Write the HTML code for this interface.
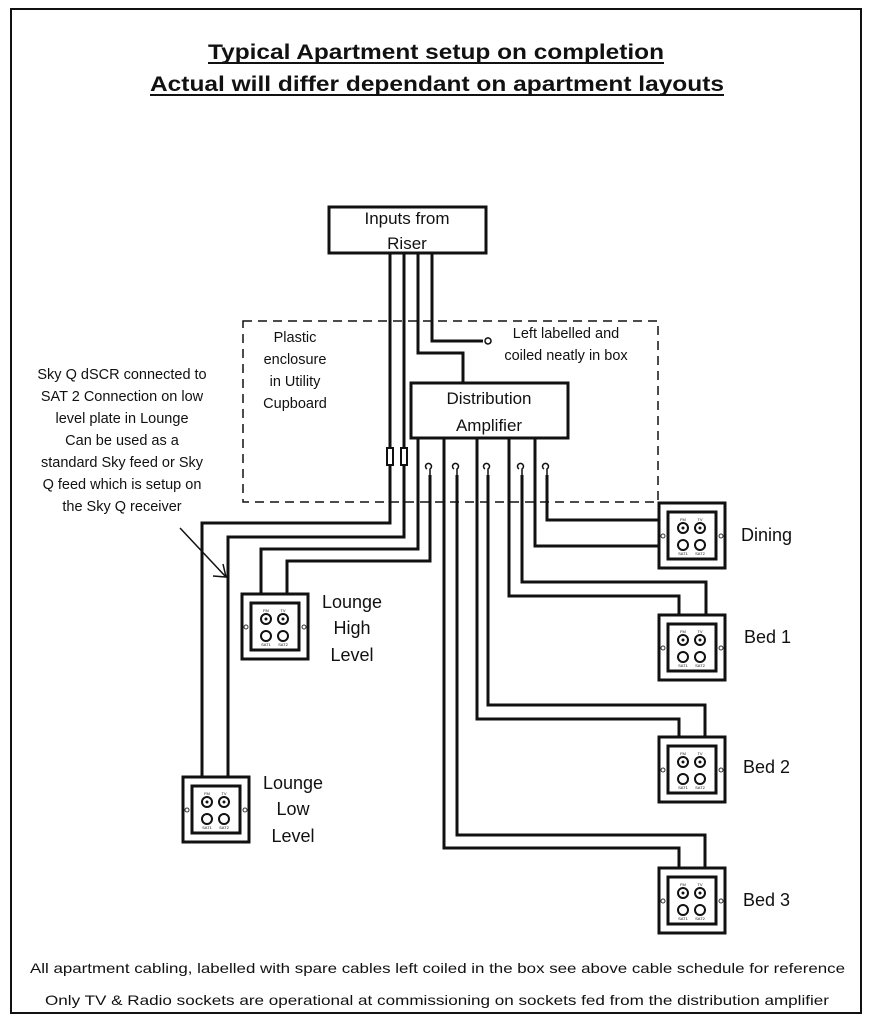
<!DOCTYPE html>
<html><head><style>
html,body{margin:0;padding:0;background:#fff}
svg{display:block}
text{font-family:"Liberation Sans",sans-serif;fill:#111}
</style></head><body>
<svg width="870" height="1024" viewBox="0 0 870 1024" xmlns="http://www.w3.org/2000/svg">
<defs>
<g id="plate">
<rect x="0" y="0" width="66" height="65" fill="#fff" stroke="#111" stroke-width="3"/>
<rect x="9" y="9" width="48" height="47" fill="#fff" stroke="#111" stroke-width="3"/>
<circle cx="4" cy="33" r="2" fill="none" stroke="#333" stroke-width="1"/>
<circle cx="62" cy="33" r="2" fill="none" stroke="#333" stroke-width="1"/>
<circle cx="24" cy="25" r="5" fill="none" stroke="#111" stroke-width="2"/>
<circle cx="24" cy="25" r="1.5" fill="#111"/>
<circle cx="41" cy="25" r="5" fill="none" stroke="#111" stroke-width="2"/>
<circle cx="41" cy="25" r="1.5" fill="#111"/>
<circle cx="24" cy="42" r="5" fill="none" stroke="#111" stroke-width="2"/>
<circle cx="41" cy="42" r="5" fill="none" stroke="#111" stroke-width="2"/>
<text x="24" y="18" font-size="4" text-anchor="middle">FM</text>
<text x="41" y="18" font-size="4" text-anchor="middle">TV</text>
<text x="24" y="52" font-size="4" text-anchor="middle">SAT1</text>
<text x="41" y="52" font-size="4" text-anchor="middle">SAT2</text>
</g>
</defs>
<rect x="11" y="9" width="850" height="1004" fill="none" stroke="#111" stroke-width="2"/>
<text x="208" y="59" font-size="21" font-weight="bold" textLength="456" lengthAdjust="spacingAndGlyphs">Typical Apartment setup on completion</text>
<text x="150" y="91" font-size="21" font-weight="bold" textLength="574" lengthAdjust="spacingAndGlyphs">Actual will differ dependant on apartment layouts</text>
<line x1="208" y1="63" x2="664" y2="63" stroke="#111" stroke-width="2"/>
<line x1="150" y1="95" x2="724" y2="95" stroke="#111" stroke-width="2"/>

<rect x="243" y="321" width="415" height="181" fill="none" stroke="#111" stroke-width="1.5" stroke-dasharray="9,6"/>

<g fill="none" stroke="#111" stroke-width="3">
<polyline points="432,253 432,341 483,341"/>
<polyline points="418,253 418,353 463,353 463,383"/>
<polyline points="390,253 390,523 202,523 202,777"/>
<polyline points="404,253 404,537 228,537 228,777"/>
<polyline points="418,438 418,549 261,549 261,594"/>
<polyline points="430,475 430,561 287,561 287,594"/>
<polyline points="444,438 444,848 679,848 679,868"/>
<polyline points="457,475 457,835 705,835 705,868"/>
<polyline points="477,438 477,719 679,719 679,737"/>
<polyline points="488,475 488,705 705,705 705,737"/>
<polyline points="509,438 509,596 679,596 679,615"/>
<polyline points="522,475 522,582 706,582 706,615"/>
<polyline points="535,438 535,546 659,546"/>
<polyline points="547,475 547,520 659,520"/>
</g>
<g fill="none" stroke="#111" stroke-width="1.5">
<path d="M485,341 a3,3 0 1 0 0,-0.1"/>
<path d="M430,475 v-6 a3,3 0 1 0 -3,0"/>
<path d="M457,475 v-6 a3,3 0 1 0 -3,0"/>
<path d="M488,475 v-6 a3,3 0 1 0 -3,0"/>
<path d="M522,475 v-6 a3,3 0 1 0 -3,0"/>
<path d="M547,475 v-6 a3,3 0 1 0 -3,0"/>
</g>
<rect x="387" y="448" width="6" height="17" fill="#fff" stroke="#111" stroke-width="2"/>
<rect x="401" y="448" width="6" height="17" fill="#fff" stroke="#111" stroke-width="2"/>

<rect x="329" y="207" width="157" height="46" fill="#fff" stroke="#111" stroke-width="3"/>
<text x="407" y="224" font-size="17" text-anchor="middle">Inputs from</text>
<text x="407" y="249" font-size="17" text-anchor="middle">Riser</text>
<rect x="411" y="383" width="157" height="55" fill="#fff" stroke="#111" stroke-width="3"/>
<text x="489" y="404" font-size="17" text-anchor="middle">Distribution</text>
<text x="489" y="431" font-size="17" text-anchor="middle">Amplifier</text>

<g font-size="14.5" text-anchor="middle">
<text x="295" y="342">Plastic</text>
<text x="295" y="364">enclosure</text>
<text x="295" y="386">in Utility</text>
<text x="295" y="408">Cupboard</text>
<text x="566" y="338">Left labelled and</text>
<text x="566" y="360">coiled neatly in box</text>
<text x="122" y="379">Sky Q dSCR connected to</text>
<text x="122" y="401">SAT 2 Connection on low</text>
<text x="122" y="423">level plate in Lounge</text>
<text x="122" y="445">Can be used as a</text>
<text x="122" y="467">standard Sky feed or Sky</text>
<text x="122" y="489">Q feed which is setup on</text>
<text x="122" y="511">the Sky Q receiver</text>
</g>
<line x1="180" y1="528" x2="226" y2="577" stroke="#111" stroke-width="1.5"/>
<polyline points="213,576 226,577 223,564" fill="none" stroke="#111" stroke-width="1.5"/>

<use href="#plate" x="242" y="594"/>
<use href="#plate" x="183" y="777"/>
<use href="#plate" x="659" y="503"/>
<use href="#plate" x="659" y="615"/>
<use href="#plate" x="659" y="737"/>
<use href="#plate" x="659" y="868"/>

<g font-size="18">
<text x="741" y="541">Dining</text>
<text x="744" y="643">Bed 1</text>
<text x="743" y="773">Bed 2</text>
<text x="743" y="906">Bed 3</text>
</g>
<g font-size="18" text-anchor="middle">
<text x="352" y="608">Lounge</text>
<text x="352" y="634">High</text>
<text x="352" y="661">Level</text>
<text x="293" y="789">Lounge</text>
<text x="293" y="815">Low</text>
<text x="293" y="842">Level</text>
</g>
<g font-size="14">
<text x="30" y="973" textLength="815" lengthAdjust="spacingAndGlyphs">All apartment cabling, labelled with spare cables left coiled in the box see above cable schedule for reference</text>
<text x="45" y="1005" textLength="784" lengthAdjust="spacingAndGlyphs">Only TV &amp; Radio sockets are operational at commissioning on sockets fed from the distribution amplifier</text>
</g>
</svg>
</body></html>
